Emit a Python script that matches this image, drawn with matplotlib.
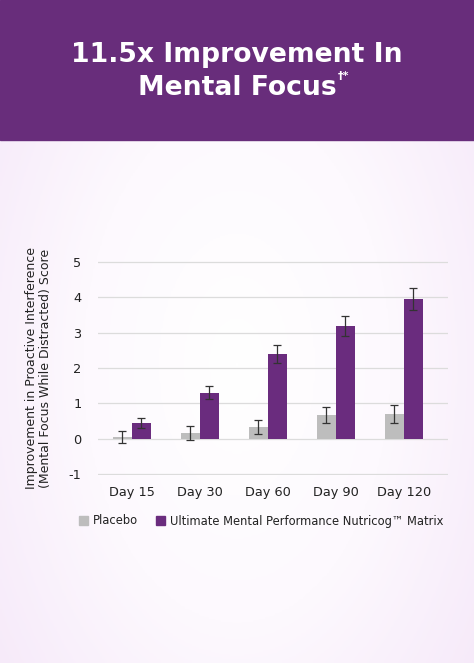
import numpy as np
import matplotlib
matplotlib.use("Agg")
from matplotlib import pyplot as plt
from matplotlib.colors import LinearSegmentedColormap
from matplotlib.patches import Patch

days = ["Day 15", "Day 30", "Day 60", "Day 90", "Day 120"]
placebo = [0.04, 0.17, 0.34, 0.66, 0.70]
placebo_err = [0.17, 0.20, 0.20, 0.23, 0.26]
matrix = [0.44, 1.30, 2.40, 3.19, 3.96]
matrix_err = [0.15, 0.19, 0.26, 0.27, 0.31]
yticks = [-1, 0, 1, 2, 3, 4, 5]

purple = "#6a2c7e"
header = "#682d7b"
grey = "#bdbdbd"

plt.rcParams['font.family'] = ['DejaVu Sans']

W, H = 474, 663
fig = plt.figure(figsize=(W / 100, H / 100), dpi=100)

# soft radial background
bg = fig.add_axes([0, 0, 1, 1])
yy, xx = np.mgrid[0:1:200j, 0:1:200j]
r = np.sqrt(((xx - 0.5) / 0.5) ** 2 + ((yy - 0.45) / 0.6) ** 2)
cmap = LinearSegmentedColormap.from_list("bgc", ["#ffffff", "#fdf9fe", "#f6e9f9"])
bg.imshow(np.clip(r, 0, 1.3), cmap=cmap, extent=[0, 1, 0, 1], aspect="auto", origin="lower")
bg.axhspan(1 - 140 / H, 1, color=header)
bg.set_xlim(0, 1)
bg.set_ylim(0, 1)
bg.axis("off")

fig.text(0.5, 1 - 55 / H, "11.5x Improvement In", ha="center", va="center",
         color="white", fontsize=19.2, fontweight="bold")
t2 = fig.text(0.5, 1 - 88 / H, "Mental Focus", ha="center", va="center",
              color="white", fontsize=19.2, fontweight="bold")
fig.canvas.draw()
bb = t2.get_window_extent().transformed(fig.transFigure.inverted())
fig.text(bb.x1 + 1 / W, 1 - 76 / H, "\u2020*", ha="left", va="center",
         color="white", fontsize=8, fontweight="bold")

ax = fig.add_axes([98 / W, 1 - 475 / H, 350 / W, 214 / H])
ax.set_facecolor("none")
x = np.arange(len(days))
w = 0.28
ax.bar(x - w / 2, placebo, w, color=grey, yerr=placebo_err, capsize=3,
       error_kw=dict(ecolor="#333333", elinewidth=0.9, capthick=0.9), zorder=3)
ax.bar(x + w / 2, matrix, w, color=purple, yerr=matrix_err, capsize=3,
       error_kw=dict(ecolor="#333333", elinewidth=0.9, capthick=0.9), zorder=3)

ax.set_ylim(-1.03, 5.03)
ax.set_xlim(-0.5, 4.65)
ax.set_yticks(yticks)
ax.set_yticklabels([str(t) for t in yticks])
ax.set_xticks(x)
ax.set_xticklabels(days)
ax.grid(axis="y", color="#dcdcdc", linewidth=0.9, zorder=0)
for s in ax.spines.values():
    s.set_visible(False)
ax.tick_params(axis="both", length=0, labelsize=9.3, colors="#222222")
ax.tick_params(axis="y", pad=12)
ax.tick_params(axis="x", pad=8)
ax.set_ylabel("Improvement in Proactive Interference\n(Mental Focus While Distracted) Score",
              fontsize=9, color="#222222", labelpad=12, linespacing=1.1)

handles = [Patch(color=grey), Patch(color=purple)]
fig.legend(handles, ["Placebo", "Ultimate Mental Performance Nutricog\u2122 Matrix"],
           loc="center", bbox_to_anchor=(261 / W, 1 - 521 / H), ncol=2, frameon=False,
           fontsize=8.3, handlelength=0.8, handleheight=0.8, handletextpad=0.4,
           columnspacing=1.6, labelcolor="#222222")

fig.savefig("out.png", dpi=100)
